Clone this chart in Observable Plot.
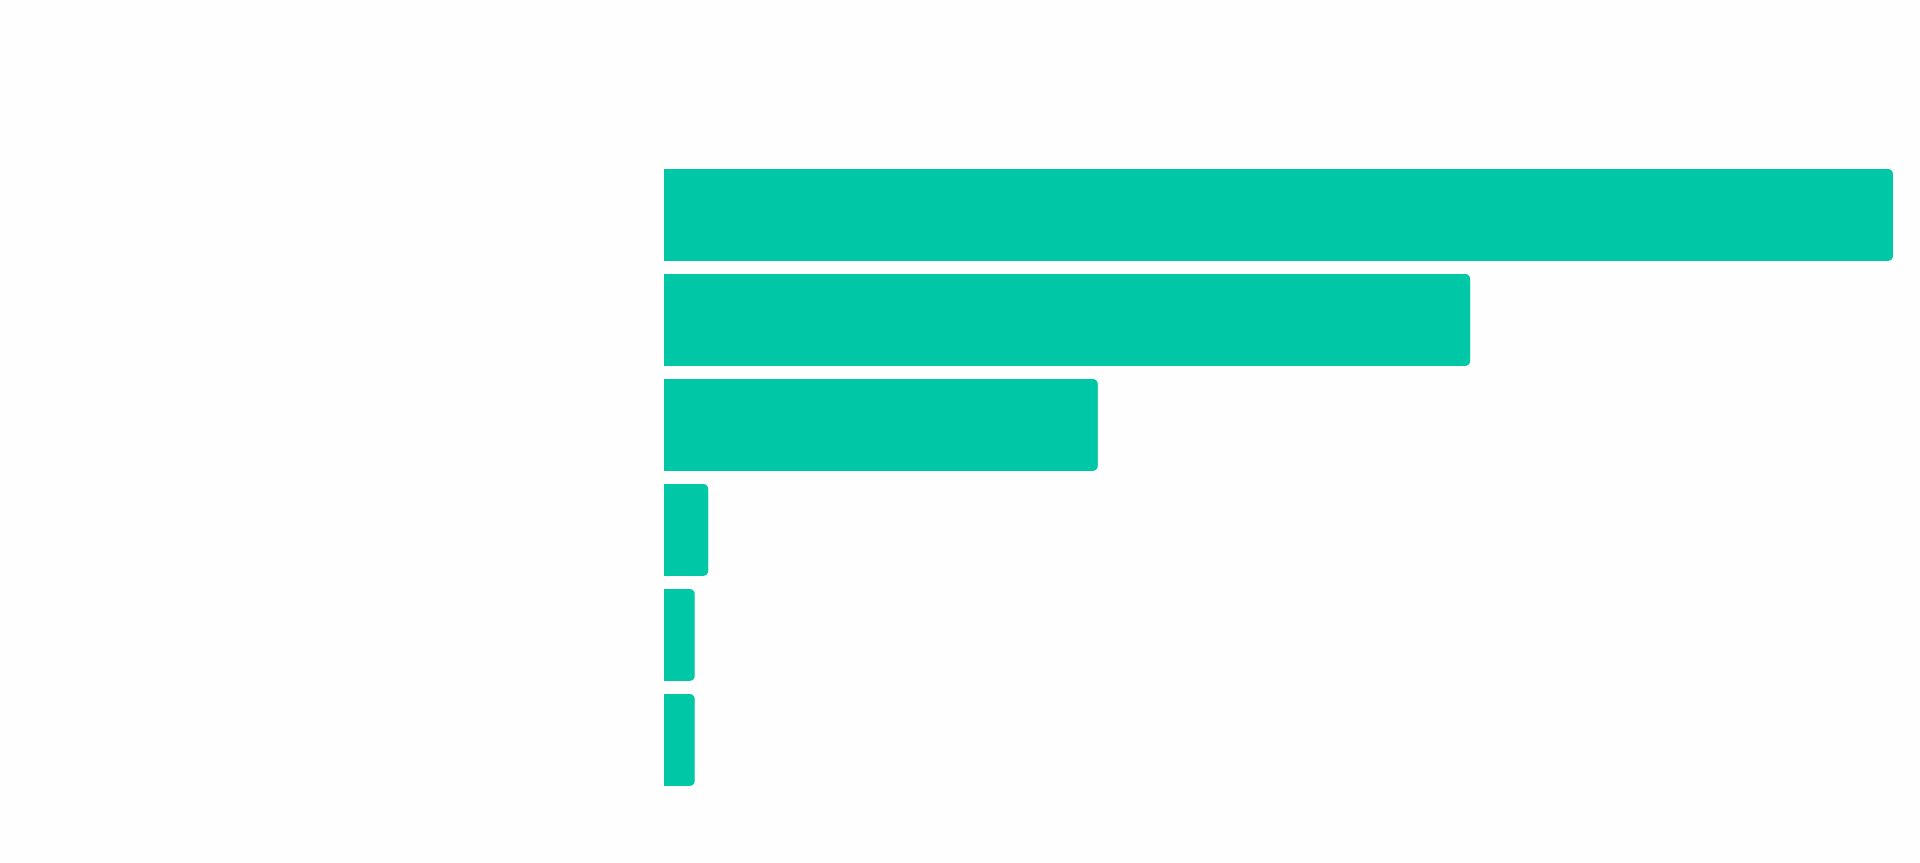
<!DOCTYPE html>
<html>
<head>
<meta charset="utf-8">
<script src="https://cdn.jsdelivr.net/npm/d3@7"></script>
<script src="https://cdn.jsdelivr.net/npm/@observablehq/plot@0.6"></script>
<style>
  html, body { margin: 0; padding: 0; background: #fefefe; }
  #chart svg { display: block; }
</style>
</head>
<body>
<div id="chart"></div>
<script>
const categories = ["A", "B", "C", "D", "E", "F"];
const values = [100, 65.6, 35.3, 3.6, 2.5, 2.5];

const data = categories.map((c, i) => ({category: c, value: values[i]}));

const chart = Plot.plot({
  width: 1920,
  height: 863,
  marginLeft: 664,
  marginRight: 27,
  marginTop: 155,
  marginBottom: 64,
  style: {background: "#fefefe"},
  x: {domain: [0, 100], axis: null},
  y: {domain: categories, padding: 0.124, axis: null},
  marks: [
    Plot.barX(data, {x: "value", y: "category", fill: "#00C8A7", rx2: 5})
  ]
});
document.getElementById("chart").append(chart);
</script>
</body>
</html>
